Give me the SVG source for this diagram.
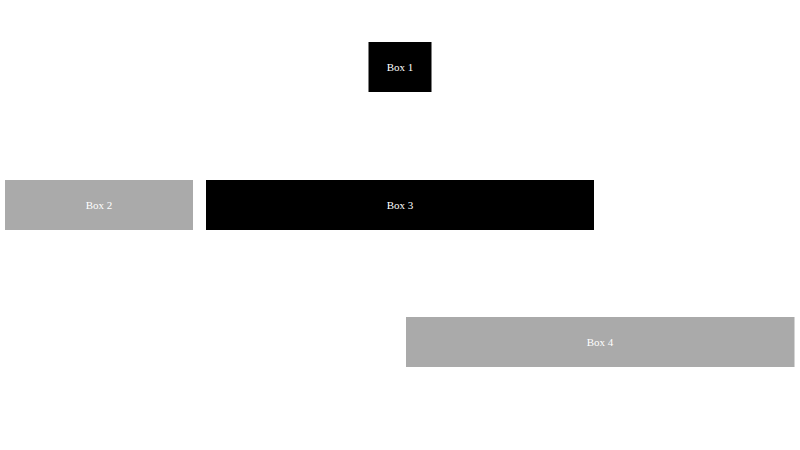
<svg xmlns="http://www.w3.org/2000/svg" width="800" height="450" viewBox="0 0 800 450">
<style>
.dark{fill:#000000}
.grey{fill:#aaaaaa}
.lbl{font-family:"Liberation Serif","Times New Roman",serif;font-size:11px;fill:#ffffff;text-anchor:middle;dominant-baseline:central}
</style>
<rect width="800" height="450" fill="#ffffff"/>
<g id="connectors"></g>
<g id="box1"><rect class="dark" x="368.5" y="42" width="63" height="50"/><text class="lbl" x="400" y="67">Box 1</text></g>
<g id="box2"><rect class="grey" x="5" y="180" width="188" height="50"/><text class="lbl" x="99" y="205">Box 2</text></g>
<g id="box3"><rect class="dark" x="206" y="180" width="388" height="50"/><text class="lbl" x="400" y="205">Box 3</text></g>
<g id="box4"><rect class="grey" x="406" y="317" width="388.5" height="50"/><text class="lbl" x="600" y="342">Box 4</text></g>
</svg>
